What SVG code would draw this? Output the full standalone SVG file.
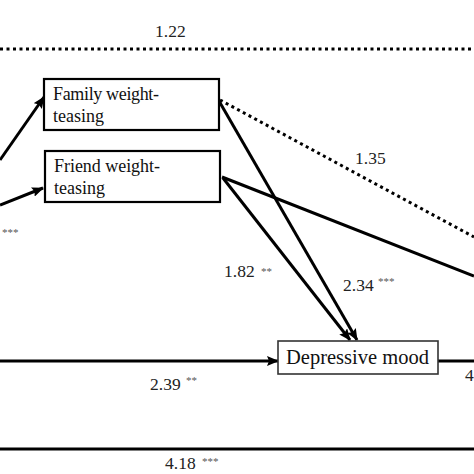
<svg xmlns="http://www.w3.org/2000/svg" width="474" height="474" viewBox="0 0 474 474">
<defs>
<marker id="ah" markerUnits="userSpaceOnUse" markerWidth="12" markerHeight="10" refX="11" refY="5" orient="auto">
<path d="M0,0 L12,5 L0,10 L2,5 z" fill="#000"/>
</marker>
<style>
.box{fill:#fff;stroke:#000;stroke-width:2.2}
.lbl{font-family:"Liberation Serif","Times New Roman",serif;font-size:18px;fill:#111}
.num{font-family:"Liberation Serif","Times New Roman",serif;font-size:17.5px;fill:#222}
.sup{font-family:"Liberation Serif","Times New Roman",serif;font-size:11px;fill:#555}
.solid{stroke:#000;stroke-width:3;fill:none}
.dot{stroke:#000;stroke-width:3;fill:none;stroke-dasharray:3 3.5}
</style>
</defs>
<rect width="474" height="474" fill="#fff"/>
<g id="connectors">
<line class="dot" x1="0" y1="49" x2="474" y2="49"/>
<line class="dot" x1="220" y1="100" x2="474" y2="237"/>
<line class="solid" x1="0" y1="160" x2="44" y2="97" marker-end="url(#ah)"/>
<line class="solid" x1="0" y1="205" x2="43" y2="188" marker-end="url(#ah)"/>
<line class="solid" x1="222" y1="177" x2="474" y2="276"/>
<line class="solid" x1="219" y1="101" x2="357" y2="340" marker-end="url(#ah)"/>
<line class="solid" x1="223" y1="178" x2="350" y2="340" marker-end="url(#ah)"/>
<line class="solid" x1="0" y1="361" x2="278" y2="361" marker-end="url(#ah)"/>
<line class="solid" x1="438" y1="361" x2="474" y2="361"/>
<line class="solid" x1="0" y1="449" x2="474" y2="449"/>
</g>
<g id="family">
<rect class="box" x="44" y="79" width="175" height="51"/>
<text class="lbl" x="53" y="100" textLength="106">Family weight-</text>
<text class="lbl" x="53" y="122">teasing</text>
</g>
<g id="friend">
<rect class="box" x="45" y="151" width="175" height="51"/>
<text class="lbl" x="54" y="172" textLength="106">Friend weight-</text>
<text class="lbl" x="54" y="194">teasing</text>
</g>
<g id="depressive">
<rect x="278" y="341" width="160" height="33" fill="#fff" stroke="#333" stroke-width="1.6"/>
<text x="286" y="364" font-family="Liberation Serif, Times New Roman, serif" font-size="20.5" fill="#111">Depressive mood</text>
</g>
<g id="labels">
<text class="num" x="155" y="37">1.22</text>
<text class="num" x="355" y="164">1.35</text>
<text class="sup" x="2" y="236">***</text>
<text class="num" x="224" y="277">1.82</text>
<text class="sup" x="261" y="275">**</text>
<text class="num" x="343" y="291">2.34</text>
<text class="sup" x="378" y="285">***</text>
<text class="num" x="150" y="390">2.39</text>
<text class="sup" x="186" y="384">**</text>
<text class="num" x="465" y="381">4</text>
<text class="num" x="165" y="469">4.18</text>
<text class="sup" x="202" y="465">***</text>
</g>
</svg>
